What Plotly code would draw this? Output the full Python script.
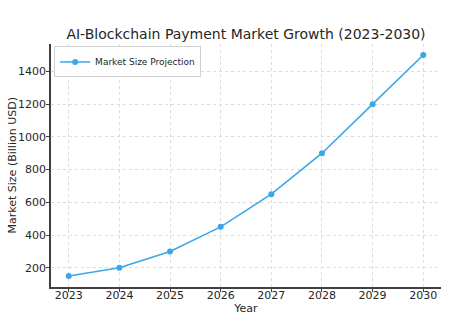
import plotly.graph_objects as go

years = [2023, 2024, 2025, 2026, 2027, 2028, 2029, 2030]
market_size = [150, 200, 300, 450, 650, 900, 1200, 1500]
y_ticks = [200, 400, 600, 800, 1000, 1200, 1400]

fig = go.Figure()
fig.add_trace(go.Scatter(
    x=years, y=market_size, mode="lines+markers",
    name="Market Size Projection",
    line=dict(color="#3ba7e6", width=1.6),
    marker=dict(color="#3ba7e6", size=6),
))

font = "DejaVu Sans, sans-serif"
plot_w = 474 - 51 - 33
fig.update_layout(
    width=474, height=323,
    margin=dict(l=51, r=33, t=44, b=36, autoexpand=False),
    paper_bgcolor="white", plot_bgcolor="white",
    font=dict(family=font, size=11, color="#262626"),
    title=dict(text="AI-Blockchain Payment Market Growth (2023-2030)",
               x=246/474, xanchor="center", y=1-34/323, yanchor="middle",
               font=dict(size=14, color="#262626")),
    showlegend=True,
    legend=dict(x=0.008, y=0.99, xanchor="left", yanchor="top",
                bgcolor="rgba(255,255,255,0.8)", bordercolor="#d0d0d0", borderwidth=1,
                font=dict(size=9), itemwidth=30, tracegroupgap=0),
    xaxis=dict(
        range=[2022.65, 2030.35], tickvals=years, ticktext=[str(y) for y in years],
        showgrid=True, gridcolor="#dcdcdc", griddash="dot", gridwidth=0.8,
        showline=True, linecolor="#404040", linewidth=1.5,
        ticks="outside", ticklen=3, tickcolor="#404040", ticklabelstandoff=-6,
        zeroline=False, mirror=False, automargin=True,
        title=dict(text="Year", font=dict(size=11), standoff=1),
    ),
    yaxis=dict(
        range=[82.5, 1567.5], tickvals=y_ticks,
        showgrid=True, gridcolor="#dcdcdc", griddash="dot", gridwidth=0.8,
        showline=True, linecolor="#404040", linewidth=1.5,
        ticks="outside", ticklen=3, tickcolor="#404040", ticklabelstandoff=-2,
        zeroline=False, mirror=False, automargin=False,
    ),
    annotations=[dict(
        text="Market Size (Billion USD)", textangle=-90,
        xref="paper", yref="paper", x=-(51 - 12) / plot_w, y=0.5,
        xanchor="center", yanchor="middle", showarrow=False,
        font=dict(size=11, color="#262626"),
    )],
)

fig.write_html("out.html")
